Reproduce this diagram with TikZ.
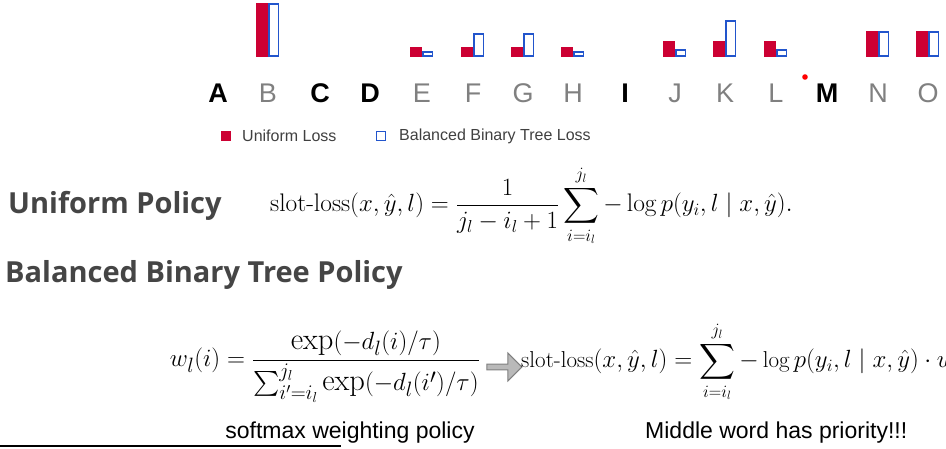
\documentclass[tikz,border=0pt]{standalone}
\usepackage{amsmath}
\usepackage{fontspec}
\setmainfont{Latin Modern Roman}
\newfontfamily\arial{Liberation Sans}
\newfontfamily\opensans{Open Sans}
\usetikzlibrary{shapes.arrows}
\definecolor{ured}{HTML}{CC0033}
\definecolor{bblue}{HTML}{2255CC}
\definecolor{head}{HTML}{454545}
\begin{document}
\begin{tikzpicture}[x=1pt,y=-1pt,
  redbar/.style={fill=ured,draw=none},
  bluebar/.style={draw=bblue,line width=1.6pt,fill=white},
  lett/.style={font=\arial\fontsize{27}{30}\selectfont,text=gray,inner sep=0},
  blett/.style={font=\arial\bfseries\fontsize{27}{30}\selectfont,text=black,inner sep=0},
  heading/.style={font=\opensans\bfseries\fontsize{29}{34}\selectfont,text=head,anchor=west,inner sep=0},
  legend/.style={font=\arial\fontsize{16}{19}\selectfont,text=black!75,anchor=west,inner sep=0},
  caption/.style={font=\arial\fontsize{23}{27}\selectfont,inner sep=0},
  mathtxt/.style={inner sep=0}]
\useasboundingbox (0,0) rectangle (946,448);
\fill[white] (0,0) rectangle (946,448);
% bars: red (x, top) blue (top)
\foreach \x/\rt/\bt in {256/3/3,410/47/51,461/47/33,511/47/33,561/47/51,663/41/49,713/41/20,764/41/49,866/31/31,916/31/31}{
  \fill[redbar] (\x,\rt) rectangle (\x+12,57);
  \draw[bluebar] (\x+12.8,\bt+0.8) rectangle (\x+22.5,56.2);
}
% letters
\foreach \l/\x/\s in {A/218/blett,B/268/lett,C/320/blett,D/370/blett,E/422/lett,F/473/lett,G/523/lett,H/573/lett,I/625/blett,J/675/lett,K/725/lett,L/776/lett,M/827/blett,N/878/lett,O/928/lett}
  \node[\s] (L\l) at (\x,93) {\l};
\fill[red] (805,77) circle (2.8);
% legend
\fill[ured] (221,131) rectangle (231,141);
\node[legend] (lu) at (242,136) {Uniform Loss};
\draw[draw=bblue,line width=1.4pt] (376.7,131.7) rectangle (385.3,140.3);
\node[legend] (lb) at (399,136) {Balanced Binary Tree Loss};
% headings
\node[heading] (hu) at (8,206) {Uniform Policy};
\node[heading] (hb) at (5,275) {Balanced Binary Tree Policy};
% formulas
\node[mathtxt,anchor=west,font=\fontsize{25.4}{30}\selectfont] (f1) at (270,206) {$\text{slot-loss}(x,\hat{y},l)=\dfrac{1}{j_l-i_l+1}\displaystyle\sum_{i=i_l}^{j_l}-\log p(y_i,l\mid x,\hat{y}).$};
\node[mathtxt,anchor=east,font=\fontsize{30.5}{36}\selectfont] (f2) at (480,367) {$w_l(i)=\dfrac{\exp(-d_l(i)/\tau)}{\sum_{i'=i_l}^{j_l}\exp(-d_l(i')/\tau)}$};
\node[single arrow,draw=gray,fill=gray!55,line width=1pt,minimum height=35pt,minimum width=28pt,single arrow head extend=6pt,inner sep=1pt] (ar) at (503,367) {};
\node[mathtxt,anchor=west,font=\fontsize{23}{27}\selectfont] (f3) at (521,362) {$\text{slot-loss}(x,\hat{y},l)=\displaystyle\sum_{i=i_l}^{j_l}-\log p(y_i,l\mid x,\hat{y})\cdot w_l(i).$};
% captions
\node[caption] (c1) at (350,433) {softmax weighting policy};
\node[caption,anchor=west] (c2) at (645,433) {Middle word has priority!!!};
\coordinate (b0) at (0,446);
\coordinate (b1) at (341,446);
\draw[line width=1.2pt] (b0) -- (b1);
\end{tikzpicture}
\end{document}
